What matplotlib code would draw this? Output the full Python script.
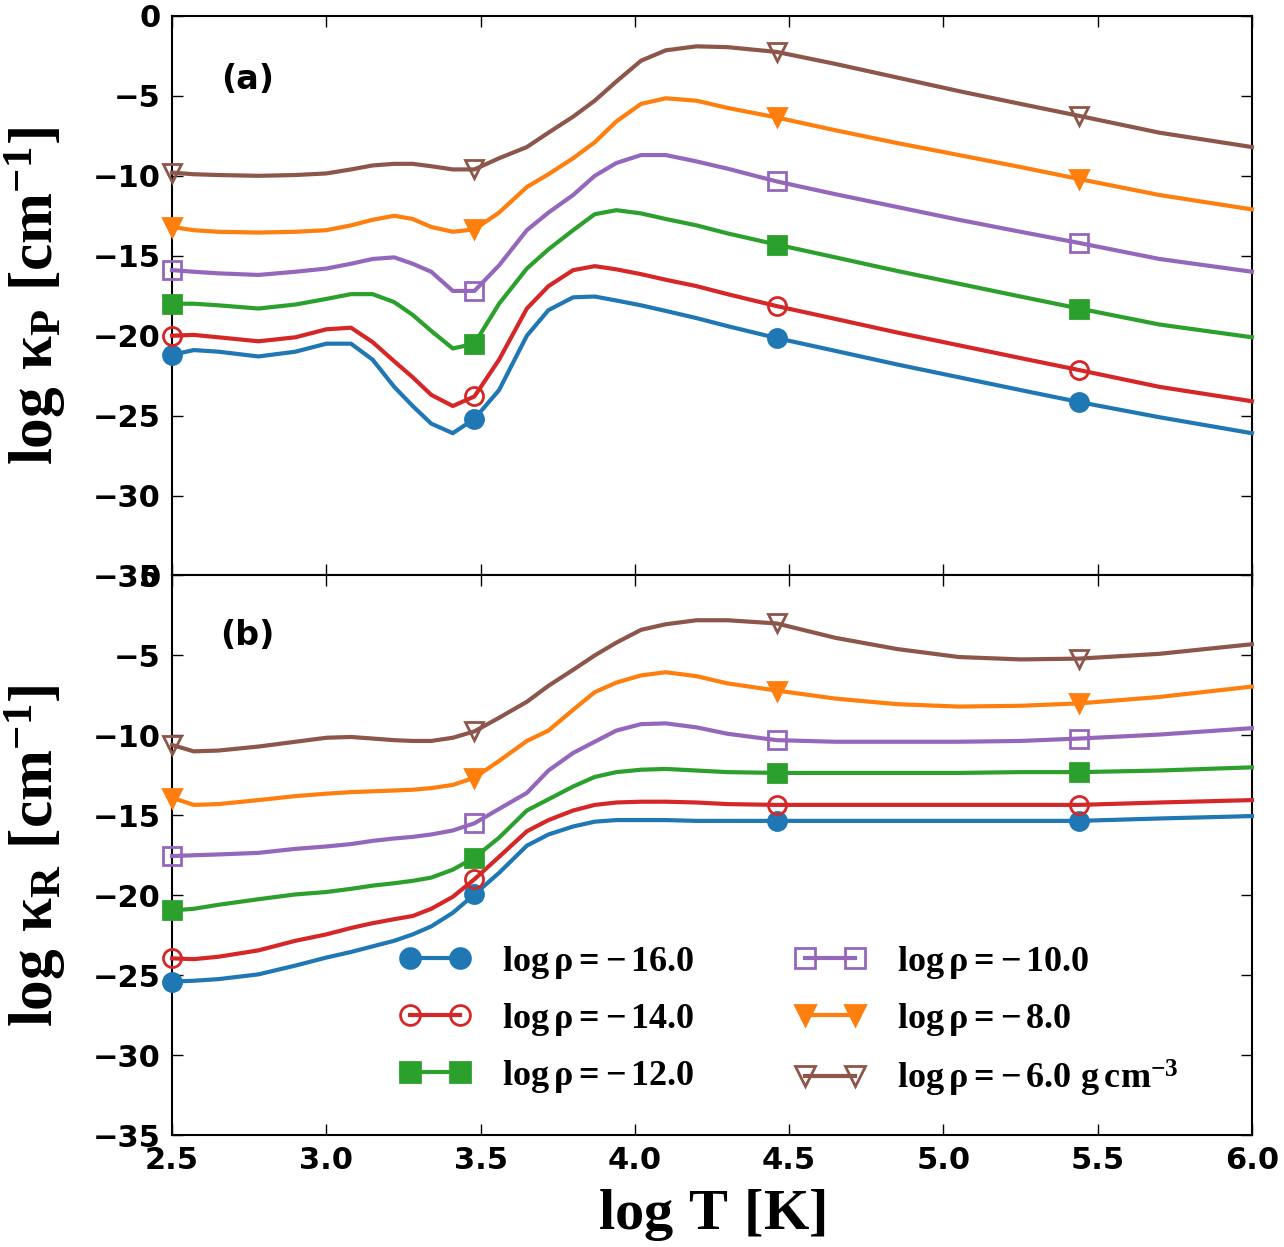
import matplotlib
matplotlib.use("Agg")
import matplotlib.pyplot as plt

plt.rcParams['mathtext.fontset'] = 'custom'
plt.rcParams['mathtext.rm'] = 'Liberation Serif:bold'
plt.rcParams['mathtext.bf'] = 'Liberation Serif:bold'
plt.rcParams['mathtext.it'] = 'Liberation Serif:bold'

# temperature grid (log T)
logT = [2.50, 2.57, 2.65, 2.78, 2.90, 3.00, 3.08, 3.15, 3.22, 3.28, 3.34, 3.41,
        3.48, 3.56, 3.65, 3.72, 3.80, 3.87, 3.94, 4.02, 4.10, 4.20, 4.30, 4.46,
        4.65, 4.85, 5.05, 5.25, 5.44, 5.70, 6.00]
mark_idx = [0, 12, 23, 28]

rho_labels = ['16.0', '14.0', '12.0', '10.0', '8.0', '6.0']

# Planck mean opacity, panel (a)
kP_m16 = [-21.2, -20.9, -21.0, -21.3, -21.0, -20.5, -20.5, -21.5, -23.2, -24.4, -25.5, -26.1,
          -25.2, -23.4, -20.0, -18.4, -17.6, -17.55, -17.8, -18.1, -18.45, -18.9, -19.4, -20.15,
          -20.95, -21.8, -22.6, -23.4, -24.15, -25.1, -26.1]
kP_m14 = [-20.0, -19.95, -20.1, -20.35, -20.1, -19.6, -19.5, -20.4, -21.6, -22.6, -23.7, -24.4,
          -23.8, -21.5, -18.3, -16.9, -15.9, -15.65, -15.85, -16.15, -16.5, -16.9, -17.4, -18.15,
          -18.95, -19.8, -20.6, -21.4, -22.15, -23.2, -24.1]
kP_m12 = [-18.0, -18.0, -18.1, -18.3, -18.05, -17.7, -17.4, -17.4, -17.9, -18.7, -19.7, -20.8,
          -20.5, -18.0, -15.8, -14.6, -13.4, -12.4, -12.15, -12.35, -12.7, -13.1, -13.6, -14.3,
          -15.1, -15.95, -16.75, -17.55, -18.3, -19.3, -20.1]
kP_m10 = [-15.9, -16.0, -16.1, -16.2, -16.0, -15.8, -15.5, -15.2, -15.1, -15.5, -16.0, -17.2,
          -17.2, -15.6, -13.4, -12.3, -11.2, -10.0, -9.2, -8.7, -8.7, -9.1, -9.55, -10.35,
          -11.15, -11.95, -12.75, -13.5, -14.2, -15.2, -16.0]
kP_m8 = [-13.2, -13.4, -13.5, -13.55, -13.5, -13.4, -13.1, -12.75, -12.5, -12.7, -13.2, -13.5,
         -13.35, -12.3, -10.7, -9.9, -8.9, -7.9, -6.6, -5.5, -5.15, -5.3, -5.75, -6.35,
         -7.15, -7.95, -8.7, -9.45, -10.2, -11.2, -12.1]
kP_m6 = [-9.8, -9.9, -9.95, -10.0, -9.95, -9.85, -9.6, -9.35, -9.25, -9.25, -9.4, -9.6,
         -9.6, -8.9, -8.2, -7.3, -6.3, -5.3, -4.1, -2.8, -2.15, -1.9, -1.95, -2.25,
         -3.0, -3.85, -4.7, -5.5, -6.25, -7.3, -8.2]

# Rosseland mean opacity, panel (b)
kR_m16 = [-25.4, -25.35, -25.25, -24.95, -24.4, -23.9, -23.55, -23.2, -22.85, -22.45, -21.95, -21.1,
          -19.95, -18.6, -16.9, -16.2, -15.7, -15.4, -15.3, -15.3, -15.3, -15.35, -15.35, -15.35,
          -15.35, -15.35, -15.35, -15.35, -15.35, -15.2, -15.05]
kR_m14 = [-23.95, -24.0, -23.85, -23.45, -22.85, -22.45, -22.05, -21.75, -21.5, -21.3, -20.85, -20.1,
          -19.0, -17.6, -16.0, -15.3, -14.7, -14.35, -14.2, -14.15, -14.15, -14.2, -14.3, -14.35,
          -14.35, -14.35, -14.35, -14.35, -14.35, -14.2, -14.05]
kR_m12 = [-20.95, -20.85, -20.6, -20.25, -19.95, -19.8, -19.6, -19.4, -19.25, -19.1, -18.9, -18.4,
          -17.65, -16.4, -14.7, -14.0, -13.2, -12.6, -12.3, -12.15, -12.1, -12.2, -12.3, -12.35,
          -12.35, -12.35, -12.35, -12.3, -12.3, -12.2, -12.0]
kR_m10 = [-17.55, -17.5, -17.45, -17.35, -17.1, -16.95, -16.8, -16.6, -16.45, -16.35, -16.2, -15.95,
          -15.5, -14.6, -13.6, -12.2, -11.1, -10.4, -9.7, -9.3, -9.25, -9.5, -9.9, -10.3,
          -10.4, -10.4, -10.4, -10.35, -10.2, -9.95, -9.55]
kR_m8 = [-13.9, -14.35, -14.3, -14.05, -13.8, -13.65, -13.55, -13.5, -13.45, -13.4, -13.3, -13.1,
         -12.65, -11.6, -10.35, -9.7, -8.4, -7.3, -6.7, -6.25, -6.05, -6.3, -6.75, -7.2,
         -7.7, -8.05, -8.2, -8.15, -8.0, -7.6, -6.95]
kR_m6 = [-10.6, -11.0, -10.95, -10.7, -10.4, -10.15, -10.1, -10.2, -10.3, -10.35, -10.35, -10.15,
         -9.75, -8.9, -7.9, -6.9, -5.9, -5.0, -4.2, -3.4, -3.05, -2.8, -2.8, -3.0,
         -3.9, -4.6, -5.1, -5.25, -5.2, -4.9, -4.3]

kP_all = [kP_m16, kP_m14, kP_m12, kP_m10, kP_m8, kP_m6]
kR_all = [kR_m16, kR_m14, kR_m12, kR_m10, kR_m8, kR_m6]

colors = ['#1f77b4', '#d62728', '#2ca02c', '#9467bd', '#ff7f0e', '#8c564b']
markers = ['o', 'o', 's', 's', 'v', 'v']
filled = [True, False, True, False, True, False]

yticks = [0, -5, -10, -15, -20, -25, -30, -35]
xticks = [2.5, 3.0, 3.5, 4.0, 4.5, 5.0, 5.5, 6.0]

fig = plt.figure(figsize=(12.84, 12.47), dpi=100)
ax1 = fig.add_axes([0.134, 0.5385, 0.841, 0.4487])
ax2 = fig.add_axes([0.134, 0.0898, 0.841, 0.4487])


def draw(ax, data, with_labels):
    for i, y in enumerate(data):
        lab = r'$\mathbf{log\,\rho = -\,%s}$' % rho_labels[i]
        if i == len(data) - 1:
            lab = r'$\mathbf{log\,\rho = -\,%s\ g\,cm^{-3}}$' % rho_labels[i]
        ax.plot(logT, y, color=colors[i], lw=3, marker=markers[i],
                markevery=mark_idx, ms=13, mew=2,
                mfc=colors[i] if filled[i] else 'none', mec=colors[i],
                label=lab if with_labels else None, clip_on=False, zorder=3)
    ax.set_xlim(2.5, 6.0)
    ax.set_ylim(-35, 0)
    ax.set_yticks(yticks)
    ax.set_xticks(xticks)
    ax.tick_params(direction='in', length=8, width=1, top=True, right=True,
                   labelsize=22, pad=8)
    for lbl in ax.get_yticklabels() + ax.get_xticklabels():
        lbl.set_fontweight('bold')
    for sp in ax.spines.values():
        sp.set_linewidth(1.5)


draw(ax1, kP_all, False)
draw(ax2, kR_all, True)
ax1.set_xticklabels([])
ax2.set_xticklabels(['%.1f' % t for t in xticks])
for lbl in ax2.get_xticklabels():
    lbl.set_fontweight('bold')

ax1.text(0.07, 0.886, '(a)', transform=ax1.transAxes, fontsize=24,
         fontweight='bold', ha='center', va='center')
ax2.text(0.07, 0.892, '(b)', transform=ax2.transAxes, fontsize=24,
         fontweight='bold', ha='center', va='center')

ax1.set_ylabel(r'$\mathbf{log\ \kappa_P\ [cm^{-1}]}$', fontsize=44, labelpad=18)
ax2.set_ylabel(r'$\mathbf{log\ \kappa_R\ [cm^{-1}]}$', fontsize=44, labelpad=18)
ax2.set_xlabel(r'$\mathbf{log\ T\ [K]}$', fontsize=42, labelpad=8)

ax2.legend(loc='lower left', bbox_to_anchor=(0.18, 0.007), ncol=2, numpoints=2,
           frameon=False, fontsize=26, handlelength=2.0, labelspacing=0.55,
           columnspacing=2.75, handletextpad=0.85, markerscale=1.1)

fig.savefig('out.png', dpi=100)
